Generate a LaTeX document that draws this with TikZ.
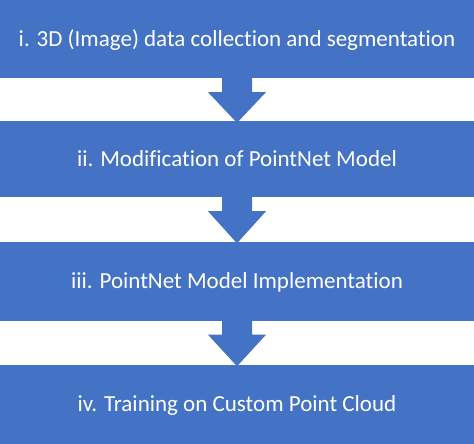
\documentclass[tikz,border=0pt]{standalone}
\usepackage{fontspec}
\setmainfont{Carlito}[Ligatures={NoCommon,NoContextual}]
\usetikzlibrary{calc}
\definecolor{officeblue}{HTML}{4472C4}
\tikzset{
  stagebox/.style={fill=officeblue, draw=none, text=white, minimum width=474pt, minimum height=#1,
    inner sep=0pt, font=\fontsize{23}{27}\selectfont, text height=15pt, text depth=0pt},
  downarrow/.style={fill=officeblue, draw=none}
}
\begin{document}
\begin{tikzpicture}[x=1pt,y=-1pt]
\useasboundingbox (0,0) rectangle (474,444);
\node[stagebox=78pt] (b1) at (237,39) {i. 3D (Image) data collection and segmentation};
\node[stagebox=76pt] (b2) at (237,159) {ii. Modification of PointNet Model};
\node[stagebox=79pt] (b3) at (237,281) {iii. PointNet Model Implementation};
\node[stagebox=79pt] (b4) at (237,404) {iv. Training on Custom Point Cloud};
\foreach \a/\b in {b1/b2, b2/b3, b3/b4}{
  \fill[downarrow] ($(\a.south)+(-15,0)$) -- ($(\a.south)+(-15,14)$) -- ($(\a.south)+(-29,14)$)
    -- ($(\b.north)+(0,2)$) -- ($(\a.south)+(29,14)$) -- ($(\a.south)+(15,14)$) -- ($(\a.south)+(15,0)$) -- cycle;
}
\end{tikzpicture}
\end{document}
